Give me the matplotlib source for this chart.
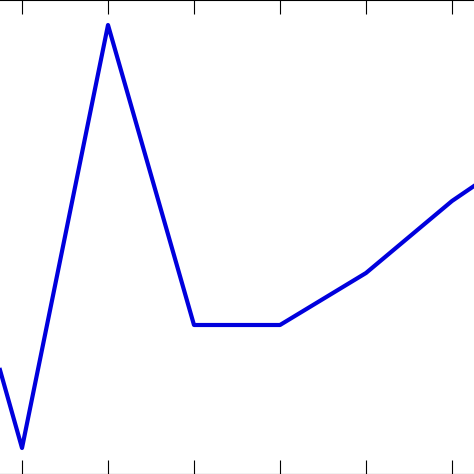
import matplotlib.pyplot as plt

# values (plot is cropped, edges are partial)
x = [-0.256, 0, 1, 2, 3, 4, 5, 5.256]
y = [104, 26, 449, 149, 149, 201, 273, 288]

fig = plt.figure(figsize=(4.74, 4.74), dpi=100)
ax = fig.add_axes([0, 0, 1, 1])
ax.plot(x, y, color="#0000dd", linewidth=3)

ax.set_xlim(-0.256, 5.256)
ax.set_ylim(0, 474)
ax.set_xticks(range(6))
ax.set_yticks([])
ax.tick_params(axis="x", direction="in", top=True, length=10, labelbottom=False)
ax.spines["left"].set_visible(False)
ax.spines["right"].set_visible(False)

fig.savefig("out.png", dpi=100)
